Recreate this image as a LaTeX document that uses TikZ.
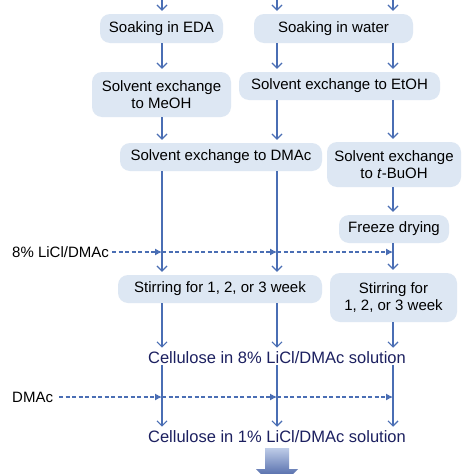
\documentclass[tikz,border=0pt]{standalone}
\usepackage{fontspec}
\setmainfont{Liberation Sans}
\usetikzlibrary{arrows.meta}
\definecolor{arr}{RGB}{74,110,180}
\definecolor{boxfill}{RGB}{221,231,243}
\definecolor{navy}{RGB}{28,32,96}
\definecolor{shtop}{RGB}{190,204,232}
\definecolor{shbot}{RGB}{30,60,140}
\begin{document}
\begin{tikzpicture}[x=1pt,y=-1pt,
  box/.style={fill=boxfill, rounded corners=10pt, align=center, inner sep=0pt, font=\fontsize{15}{17.5}\selectfont},
  flow/.style={draw=arr, line width=1.2pt, -{Straight Barb[length=5pt,width=10pt]}, shorten >=3pt},
  feed/.style={draw=arr, line width=1.1pt, dash pattern=on 4pt off 2.5pt, -{Latex[length=7pt,width=7pt]}},
  lab/.style={font=\fontsize{15}{18}\selectfont, inner sep=0pt},
  res/.style={font=\fontsize{16.5}{20}\selectfont, text=navy, inner sep=1pt}]
\useasboundingbox[fill=white] (0,0) rectangle (474,474);
% column references
\coordinate (cL) at (162,0);
\coordinate (cM) at (277,0);
\coordinate (cR) at (393,0);
% boxes
\node[box, minimum width=123pt, minimum height=29pt] (eda) at (161.5,28.5) {Soaking in EDA};
\node[box, minimum width=159pt, minimum height=29pt] (water) at (333.5,28.5) {Soaking in water};
\node[box, minimum width=139pt, minimum height=45pt] (meoh) at (161.5,94.5) {Solvent exchange\\to MeOH};
\node[box, minimum width=201pt, minimum height=28pt] (etoh) at (339.5,86) {Solvent exchange to EtOH};
\node[box, minimum width=202pt, minimum height=28pt] (dmac) at (221,157) {Solvent exchange to DMAc};
\node[box, minimum width=134pt, minimum height=45pt] (tbuoh) at (394,164.5) {Solvent exchange\\to \textit{t}-BuOH};
\node[box, minimum width=110pt, minimum height=28pt] (freeze) at (394,229) {Freeze drying};
\node[box, minimum width=204pt, minimum height=28pt] (stir1) at (220,289) {Stirring for 1, 2, or 3 week};
\node[box, minimum width=127pt, minimum height=49pt] (stir2) at (393.5,297.5) {Stirring for\\1, 2, or 3 week};
\node[res] (cell8) at (277,358) {Cellulose in 8\% LiCl/DMAc solution};
\node[res] (cell1) at (277,437) {Cellulose in 1\% LiCl/DMAc solution};
\node[lab, anchor=west] (l8) at (12,252) {8\% LiCl/DMAc};
\node[lab, anchor=west] (ld) at (12,397) {DMAc};
% left column
\draw[flow] (cL) -- (eda.north -| cL);
\draw[flow] (eda.south -| cL) -- (meoh.north -| cL);
\draw[flow] (meoh.south -| cL) -- (dmac.north -| cL);
\draw[flow] (dmac.south -| cL) -- (stir1.north -| cL);
\draw[flow] (stir1.south -| cL) -- (cell8.north -| cL);
\draw[flow] (cell8.south -| cL) -- (cell1.north -| cL);
% middle column
\draw[flow] (cM) -- (water.north -| cM);
\draw[flow] (water.south -| cM) -- (etoh.north -| cM);
\draw[flow] (etoh.south -| cM) -- (dmac.north -| cM);
\draw[flow] (dmac.south -| cM) -- (stir1.north -| cM);
\draw[flow] (stir1.south -| cM) -- (cell8.north -| cM);
\draw[flow] (cell8.south -| cM) -- (cell1.north -| cM);
% right column
\draw[flow] (cR) -- (water.north -| cR);
\draw[flow] (water.south -| cR) -- (etoh.north -| cR);
\draw[flow] (etoh.south -| cR) -- (tbuoh.north -| cR);
\draw[flow] (tbuoh.south -| cR) -- (freeze.north -| cR);
\draw[flow] (freeze.south -| cR) -- (stir2.north -| cR);
\draw[flow] (stir2.south -| cR) -- (cell8.north -| cR);
\draw[flow] (cell8.south -| cR) -- (cell1.north -| cR);
% dashed feeds
\coordinate (a1) at (l8.east -| cL);
\coordinate (a2) at (l8.east -| cM);
\coordinate (a3) at (l8.east -| cR);
\draw[feed, shorten <=3pt] (l8.east) -- (a1);
\draw[feed] (a1) -- (a2);
\draw[feed] (a2) -- (a3);
\coordinate (b1) at (ld.east -| cL);
\coordinate (b2) at (ld.east -| cM);
\coordinate (b3) at (ld.east -| cR);
\draw[feed, shorten <=6pt] (ld.east) -- (b1);
\draw[feed] (b1) -- (b2);
\draw[feed] (b2) -- (b3);
% bottom block arrow
\shade[top color=shtop, bottom color=shbot] (265,448) -- (289,448) -- (289,469) -- (298,469) -- (277,490) -- (256,469) -- (265,469) -- cycle;
\end{tikzpicture}
\end{document}
